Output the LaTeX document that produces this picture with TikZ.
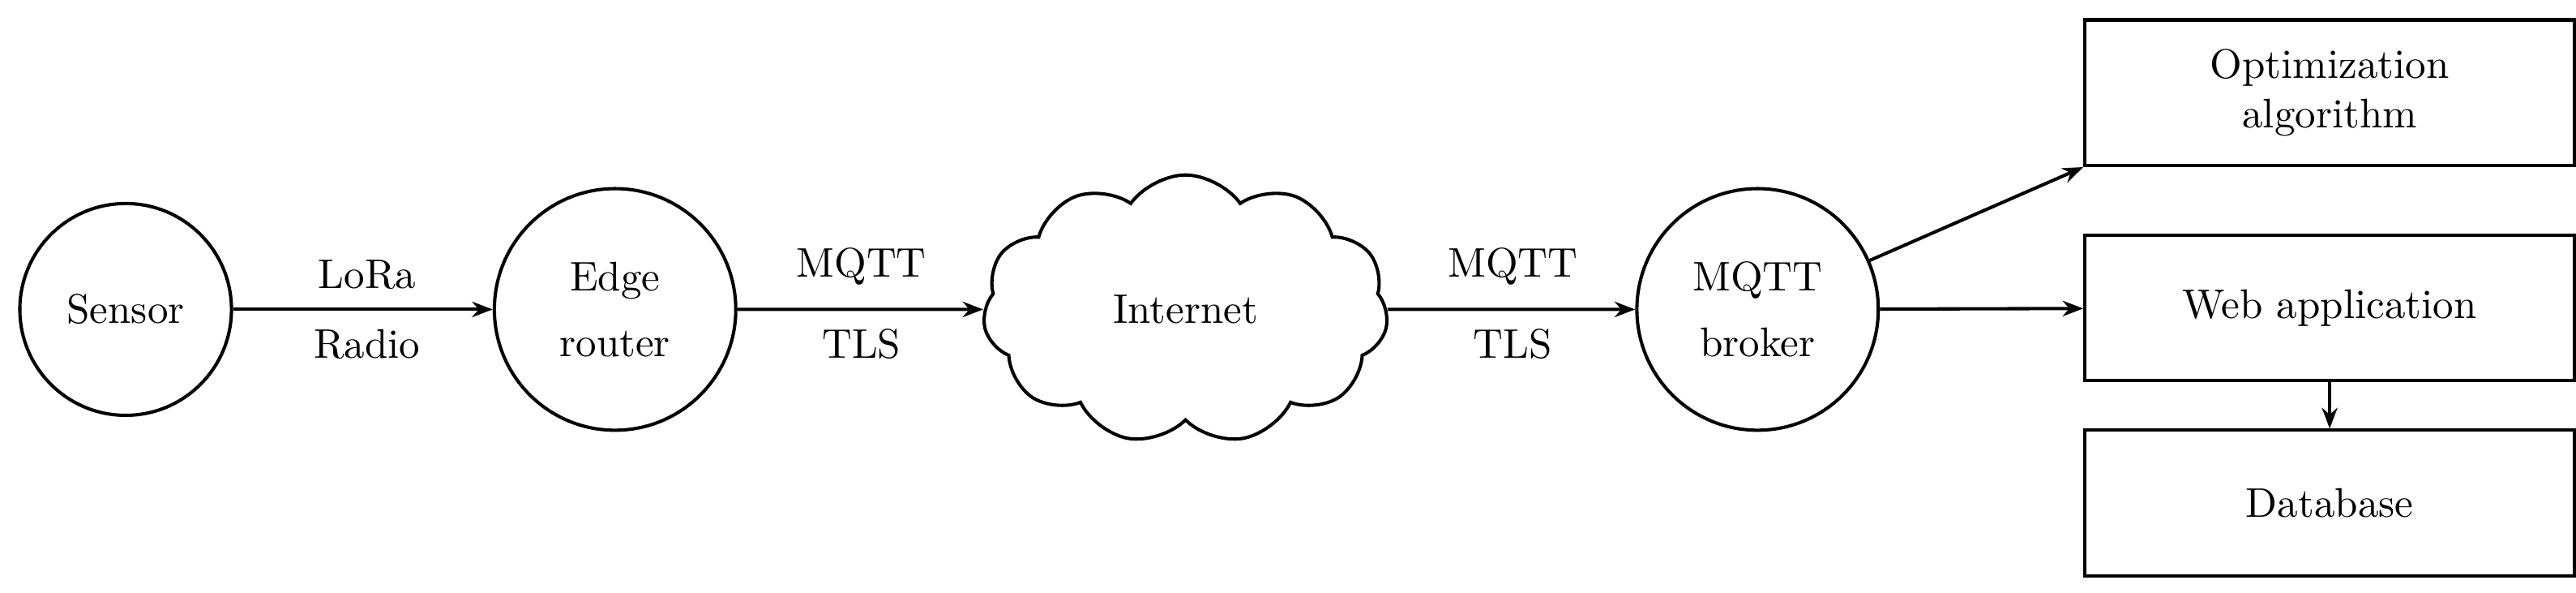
\documentclass[tikz,border=0pt]{standalone}
\usetikzlibrary{shapes.symbols,arrows.meta}
\begin{document}
\begin{tikzpicture}[x=0.4pt,y=-0.4pt,
  circ/.style={draw,thick,circle,align=center},
  box/.style={draw,thick,minimum width=118.4pt,minimum height=35.2pt,align=center},
  conn/.style={thick,-{Stealth[length=5pt]}},
  lbl/.style={font=\normalsize}]
\useasboundingbox (0,0) rectangle (1558,358);
\node[circ,minimum size=51.2pt] (s) at (76,187) {Sensor};
\node[circ,minimum size=58.4pt] (e) at (372,187) {Edge\\[4pt]router};
\node[draw,thick,cloud,cloud puffs=11,cloud puff arc=110,aspect=1.5,minimum width=98pt,minimum height=65pt,inner sep=0pt] (c) at (717,187) {Internet};
\node[circ,minimum size=58.4pt] (b) at (1063,187) {MQTT\\[4pt]broker};
\node[box] (o) at (1409,56) {Optimization\\algorithm};
\node[box] (w) at (1409,186) {Web application};
\node[box] (d) at (1409,304) {Database};
\draw[conn] (s) -- (e);
\draw[conn] (e) -- (c);
\draw[conn] (c) -- (b);
\draw[conn] (b) -- (o.south west);
\draw[conn] (b) -- (w);
\draw[conn] (w) -- (d);
\node[lbl] (l1) at (222,166) {LoRa};
\node[lbl] (l2) at (222,208) {Radio};
\node[lbl] (l3) at (521,161) {MQTT};
\node[lbl] (l4) at (521,208) {TLS};
\node[lbl] (l5) at (915,161) {MQTT};
\node[lbl] (l6) at (915,208) {TLS};
\end{tikzpicture}
\end{document}
